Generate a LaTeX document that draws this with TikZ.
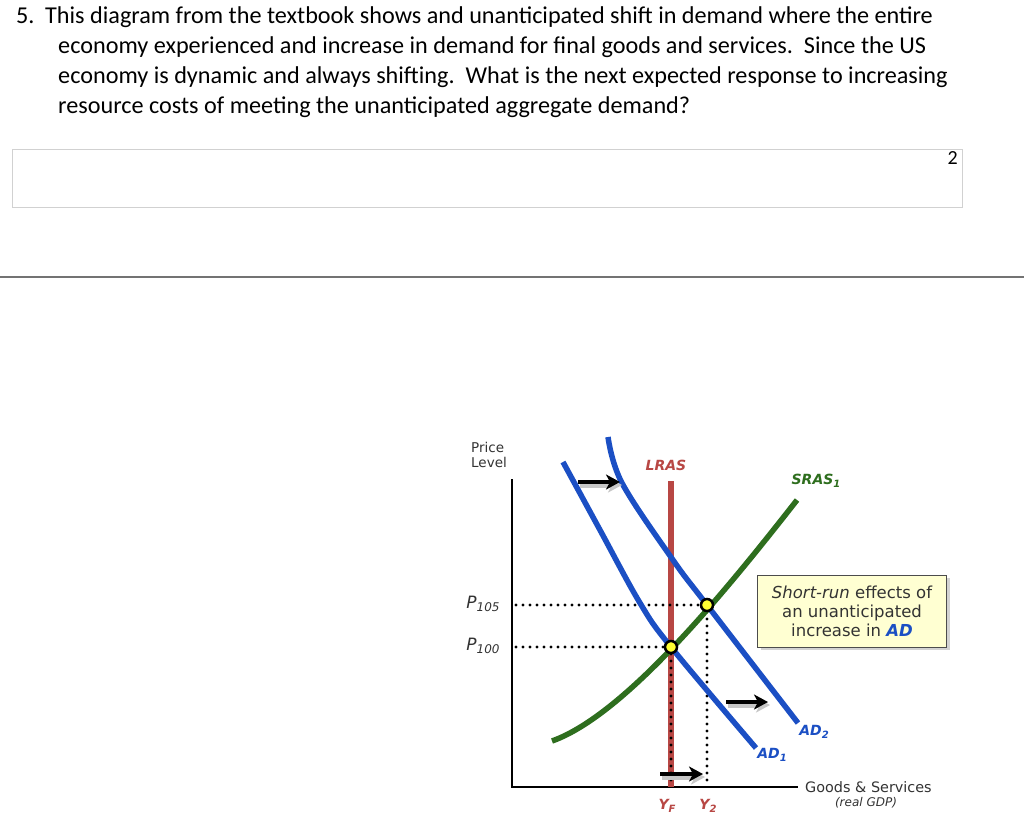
\documentclass[tikz,border=0pt]{standalone}
\usepackage{fontspec}
\setmainfont{Carlito}
\newfontfamily\gfont{DejaVu Sans}
\usetikzlibrary{arrows.meta,shadows}
\definecolor{adblue}{HTML}{1B4FC4}
\definecolor{srasgreen}{HTML}{2E6E1E}
\definecolor{lrasred}{HTML}{B84744}
\definecolor{boxfill}{HTML}{FFFFD2}
\definecolor{ylw}{HTML}{FFFF33}
\definecolor{lbl}{HTML}{333333}
\begin{document}
\begin{tikzpicture}[x=1pt,y=-1pt,
  qline/.style={anchor=base west,inner sep=0pt,font=\fontsize{24.2}{29}\selectfont},
  curveline/.style={line width=5.5pt},
  dotline/.style={line width=3.3pt,dash pattern=on 0pt off 7pt,line cap=round},
  shiftarrow/.style={line width=3.8pt,-{Stealth[length=14pt,width=15pt,inset=4pt]}},
  shiftshadow/.style={line width=5pt,black!22,-{Stealth[length=14pt,width=15pt,inset=4pt]}},
  eqpt/.style={circle,fill=ylw,draw=black,line width=2.5pt,minimum size=12pt,inner sep=0pt},
  glbl/.style={font=\gfont\fontsize{14}{17}\selectfont\bfseries\itshape},
]
\useasboundingbox (0,0) rectangle (1024,831);
\fill[white] (0,0) rectangle (1024,831);
% question
\node[qline] (q0) at (16,23) {5.};
\node[qline] (q1) at (45,23) {This diagram from the textbook shows and unanticipated shift in demand where the entire};
\node[qline] (q2) at (58,53) {economy experienced and increase in demand for final goods and services.\ \ Since the US};
\node[qline] (q3) at (58,83) {economy is dynamic and always shifting.\ \ What is the next expected response to increasing};
\node[qline] (q4) at (58,113) {resource costs of meeting the unanticipated aggregate demand?};
% answer box
\draw[draw=black!18,line width=1pt] (12,149) rectangle (962,207);
\node[anchor=north east,inner sep=0pt,font=\fontsize{20}{24}\selectfont] (ans) at (958,151) {2};
% separator
\draw[black!55,line width=1.3pt] (0,277) -- (1024,277);

% axes
\node[align=left,anchor=north west,inner sep=0pt,text=lbl,font=\gfont\fontsize{13.5}{15.5}\selectfont] (ylab) at (471,442) {Price\\Level};
\coordinate (o) at (512,787);
\coordinate (ytop) at (512,479);
\coordinate (xend) at (798,787);
\draw[line width=2pt] (ytop) -- (o) -- (xend);
\node[anchor=west,inner sep=0pt,text=lbl,font=\gfont\fontsize{14.4}{16}\selectfont] (xlab) at (805,787) {Goods \& Services};
\node[inner sep=0pt,text=lbl,font=\gfont\fontsize{12}{13}\selectfont\itshape] (xlab2) at (866,803) {(real GDP)};

% LRAS
\coordinate (lrtop) at (671,481);
\coordinate (lrbot) at (671,787);
\draw[lrasred,line width=6pt] (lrtop) -- (lrbot);
\node[glbl,text=lrasred] (lras) at (666,465) {LRAS};

% equilibrium points
\coordinate (e1) at (671,647);
\coordinate (e2) at (707,605);
\coordinate (p105) at (516,605);
\coordinate (p100) at (516,647);
\coordinate (y2) at (707,787);
\draw[dotline] (p105) -- (e2);
\draw[dotline] (p100) -- (e1);
\draw[dotline] (e2) -- (y2);
\draw[dotline] (e1) -- (lrbot);

% curves
\draw[adblue,curveline] plot[smooth,tension=0.6] coordinates {(563,462) (600,530) (640,603) (671,647) (756,748)};
\draw[adblue,curveline] plot[smooth,tension=0.6] coordinates {(608,437) (622,483) (673,560) (707,605) (798,723)};
\draw[srasgreen,curveline] (552,741) .. controls (625,715) and (725,592) .. (797,500);

\node[eqpt] (pt1) at (e1) {};
\node[eqpt] (pt2) at (e2) {};

% labels
\node[inner sep=0pt,text=lbl,font=\gfont\fontsize{17}{18}\selectfont\itshape] (lp105) at (483,604) {P\raisebox{-0.4ex}{\fontsize{12}{12}\selectfont 105}};
\node[inner sep=0pt,text=lbl,font=\gfont\fontsize{17}{18}\selectfont\itshape] (lp100) at (483,646) {P\raisebox{-0.4ex}{\fontsize{12}{12}\selectfont 100}};
\node[glbl,text=srasgreen] (sras) at (816,481) {SRAS\raisebox{-0.35ex}{\fontsize{10}{12}\selectfont 1}};
\node[glbl,text=adblue] (ad2) at (814,732) {AD\raisebox{-0.35ex}{\fontsize{10}{12}\selectfont 2}};
\node[glbl,text=adblue] (ad1) at (772,755) {AD\raisebox{-0.35ex}{\fontsize{10}{12}\selectfont 1}};
\node[glbl,text=lrasred] (yf) at (667,806) {Y\raisebox{-0.35ex}{\fontsize{10}{12}\selectfont F}};
\node[glbl,text=lrasred] (yb) at (708,806) {Y\raisebox{-0.35ex}{\fontsize{10}{12}\selectfont 2}};

% shift arrows
\coordinate (a1s) at (578,482); \coordinate (a1e) at (620,482);
\coordinate (a2s) at (726,702); \coordinate (a2e) at (768,702);
\coordinate (a3s) at (660,774); \coordinate (a3e) at (703,774);
\foreach \s/\e in {a1s/a1e,a2s/a2e,a3s/a3e}{
  \draw[shiftshadow] ([shift={(2,3)}]\s) -- ([shift={(2,3)}]\e);
  \draw[shiftarrow] (\s) -- (\e);
}

% text box
\node[draw=black!70,line width=1pt,fill=boxfill,minimum width=189pt,minimum height=72pt,align=center,
  text=lbl,font=\gfont\fontsize{16.5}{19}\selectfont,
  drop shadow={shadow xshift=3pt,shadow yshift=-3pt,opacity=0.35}] (note) at (852,611)
  {\textit{Short-run} effects of\\an unanticipated\\increase in \textcolor{adblue}{\bfseries\itshape AD}};
\end{tikzpicture}
\end{document}
